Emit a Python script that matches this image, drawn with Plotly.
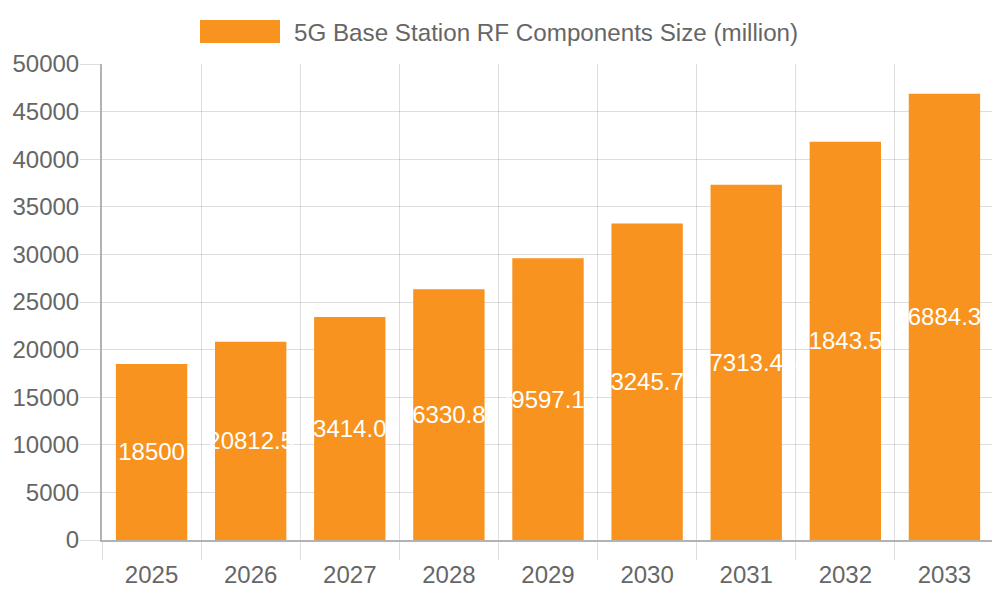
import plotly.graph_objects as go

years = ["2025", "2026", "2027", "2028", "2029", "2030", "2031", "2032", "2033"]
values = [18500, 20812.5, 23414.06, 26330.81, 29597.12, 33245.73, 37313.45, 41843.57, 46884.39]
labels = ["18500", "20812.5", "23414.06", "26330.81", "29597.12", "33245.73", "37313.45", "41843.57", "46884.39"]
series_name = "5G Base Station RF Components Size (million)"

bar_color = "rgb(247,147,30)"
font_family = "Liberation Sans, Arial, sans-serif"
grey = "#666666"
grid_color = "rgba(0,0,0,0.13)"
axis_color = "rgba(0,0,0,0.3)"

# page body has an 8px margin; compensate so the plot area lands at x 102..994, y 64..540
OFF = 8
W, H = 1000, 600
L, T = 102 - OFF, 64 - OFF
R = W - (994 - OFF)
B = H - (540 - OFF)
PW = W - L - R
PH = H - T - B

fig = go.Figure()
fig.add_trace(go.Bar(
    x=years, y=values, name=series_name,
    marker=dict(color=bar_color, line=dict(width=0)),
    text=labels, textposition="inside", insidetextanchor="middle",
    textangle=0, constraintext="none", cliponaxis=False,
    textfont=dict(color="white", size=24, family=font_family),
    showlegend=False,
))

fig.update_layout(
    width=W, height=H,
    margin=dict(l=L, r=R, t=T, b=B, pad=0, autoexpand=False),
    paper_bgcolor="white", plot_bgcolor="white",
    bargap=0.28,
    font=dict(family=font_family, color=grey, size=24),
    xaxis=dict(
        type="category", tickson="boundaries", showgrid=True,
        gridcolor=grid_color, gridwidth=1,
        ticks="outside", ticklen=18, tickcolor=grid_color, tickwidth=1,
        showline=True, linecolor=axis_color, linewidth=2,
        tickfont=dict(size=24, color=grey), zeroline=False,
        automargin=False, ticklabelstandoff=12,
    ),
    yaxis=dict(
        range=[0, 50000], dtick=5000, showgrid=True,
        gridcolor=grid_color, gridwidth=1,
        ticks="outside", ticklen=20, tickcolor=grid_color, tickwidth=1,
        showline=True, linecolor=axis_color, linewidth=2,
        tickfont=dict(size=24, color=grey), zeroline=False,
        tickformat="d", ticklabelstandoff=-4, automargin=False,
    ),
    shapes=[dict(
        type="rect", xref="paper", yref="paper",
        x0=(200 - 102) / PW, x1=(280 - 102) / PW,
        y0=(540 - 43) / PH, y1=(540 - 20) / PH,
        fillcolor=bar_color, line=dict(width=0),
    )],
    annotations=[dict(
        text=series_name, xref="paper", yref="paper",
        x=(292 - 102) / PW, y=(540 - 32) / PH,
        xanchor="left", yanchor="middle", showarrow=False,
        font=dict(size=24.2, color=grey, family=font_family),
    )],
)

fig.write_html("out.html")
